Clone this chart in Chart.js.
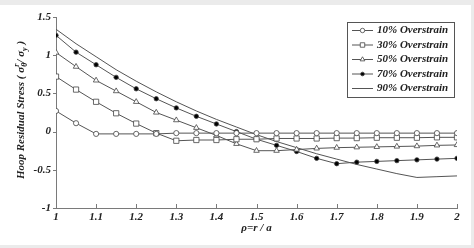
<!DOCTYPE html>
<html><head><meta charset="utf-8">
<script src="https://cdn.jsdelivr.net/npm/chart.js@4/dist/chart.umd.min.js"></script>
<style>html,body{margin:0;padding:0;background:#ebebeb;overflow:hidden}#wrap{width:474px;height:248px;position:relative}</style>
</head><body><div id="wrap"><canvas id="c" width="474" height="248"></canvas></div>
<script>
const rho = [1.00,1.05,1.10,1.15,1.20,1.25,1.30,1.35,1.40,1.45,1.50,1.55,1.60,1.65,1.70,1.75,1.80,1.85,1.90,1.95,2.00];
const xTickValues = [1,1.1,1.2,1.3,1.4,1.5,1.6,1.7,1.8,1.9,2];
const xTickLabels = ['1','1.1','1.2','1.3','1.4','1.5','1.6','1.7','1.8','1.9','2'];
const yTickValues = [-1,-0.5,0,0.5,1,1.5];
const yTickLabels = ['-1','-0.5','0','0.5','1','1.5'];
const seriesNames = ['10% Overstrain','30% Overstrain','50% Overstrain','70% Overstrain','90% Overstrain'];
const s10 = [0.27,0.11,-0.03,-0.03,-0.03,-0.03,-0.02,-0.02,-0.02,-0.02,-0.02,-0.02,-0.02,-0.02,-0.02,-0.02,-0.02,-0.02,-0.02,-0.02,-0.02];
const s30 = [0.72,0.55,0.39,0.24,0.105,-0.02,-0.12,-0.11,-0.11,-0.10,-0.10,-0.09,-0.09,-0.09,-0.085,-0.085,-0.08,-0.08,-0.08,-0.075,-0.075];
const s50 = [1.035,0.85,0.67,0.53,0.39,0.25,0.15,0.05,-0.05,-0.16,-0.25,-0.25,-0.235,-0.22,-0.21,-0.205,-0.20,-0.195,-0.19,-0.18,-0.175];
const s70 = [1.26,1.04,0.875,0.71,0.56,0.43,0.31,0.20,0.10,0.0,-0.10,-0.18,-0.26,-0.35,-0.42,-0.40,-0.39,-0.38,-0.37,-0.36,-0.35];
const s90 = [1.34,1.15,0.98,0.81,0.66,0.52,0.39,0.27,0.16,0.06,-0.04,-0.13,-0.21,-0.29,-0.36,-0.43,-0.49,-0.55,-0.60,-0.59,-0.58];

const FONT = "'Liberation Serif','DejaVu Serif',serif";
const LINE = '#555555';
const pts = a => a.map((v,i)=>({x:rho[i], y:v}));
const styles = [
  {pointStyle:'circle', pointRadius:2.6, bg:'#ffffff'},
  {pointStyle:'rect', pointRadius:3.7, bg:'#ffffff'},
  {pointStyle:'triangle', pointRadius:3.2, bg:'#ffffff'},
  {pointStyle:'circle', pointRadius:2.2, bg:'#000000'},
  {pointStyle:'circle', pointRadius:0, bg:'#ffffff'}
];
const seriesData = [s10,s30,s50,s70,s90];
const datasets = seriesData.map((s,i)=>({
  label: seriesNames[i],
  data: pts(s),
  borderColor: LINE, borderWidth: 1,
  pointStyle: styles[i].pointStyle, pointRadius: styles[i].pointRadius,
  pointBackgroundColor: styles[i].bg, pointBorderColor: '#444', pointBorderWidth: 0.8,
  tension: 0, fill: false
}));

const decor = {
  id:'decor',
  beforeDraw(chart){
    const ctx = chart.ctx;
    ctx.save(); ctx.fillStyle='#ffffff'; ctx.fillRect(0,5,471,240); ctx.restore();
  },
  afterDraw(chart){
    const ctx = chart.ctx, ca = chart.chartArea;
    const xs = chart.scales.x, ys = chart.scales.y;
    ctx.save();
    ctx.strokeStyle = '#7a7a7a'; ctx.lineWidth = 1;
    xTickValues.forEach(v=>{ const p=Math.round(xs.getPixelForValue(v))+0.5; ctx.beginPath(); ctx.moveTo(p,ca.bottom); ctx.lineTo(p,ca.bottom-4); ctx.stroke(); });
    yTickValues.forEach(v=>{ const p=Math.round(ys.getPixelForValue(v))+0.5; ctx.beginPath(); ctx.moveTo(ca.left,p); ctx.lineTo(ca.left-3,p); ctx.stroke(); });
    ctx.fillStyle='#222'; ctx.font = "italic bold 11px "+FONT; ctx.textAlign='center'; ctx.textBaseline='middle';
    ctx.fillText('ρ=r / a', (ca.left+ca.right)/2, 228);
    const segs = [
      {t:'Hoop Residual Stress ( σ', s:11, dy:0},
      {stack:[{t:'θ', s:8, dy:3},{t:'r', s:8, dy:-5}]},
      {t:'/ σ', s:11, dy:0},
      {t:'y', s:8, dy:3},
      {t:' )', s:11, dy:0}
    ];
    const w = seg => { if(seg.stack){ return Math.max(...seg.stack.map(q=>{ctx.font="italic bold "+q.s+"px "+FONT; return ctx.measureText(q.t).width;})); } ctx.font="italic bold "+seg.s+"px "+FONT; return ctx.measureText(seg.t).width; };
    const total = segs.reduce((a,sg)=>a+w(sg),0);
    ctx.translate(20, 110); ctx.rotate(-Math.PI/2);
    ctx.textAlign='left'; ctx.textBaseline='alphabetic';
    let x = -total/2;
    segs.forEach(sg=>{
      const ww = w(sg);
      const items = sg.stack ? sg.stack : [sg];
      items.forEach(q=>{ ctx.font="italic bold "+q.s+"px "+FONT; ctx.fillText(q.t, x, 4+q.dy); });
      x += ww;
    });
    ctx.restore();
    ctx.save();
    const lx=347.5, ly=22.5, lw=107, lh=75;
    ctx.fillStyle='#fff'; ctx.fillRect(lx,ly,lw,lh);
    ctx.strokeStyle='#555'; ctx.lineWidth=1; ctx.strokeRect(lx,ly,lw,lh);
    const rowY=[30,44.5,59,73.5,88];
    chart.data.datasets.forEach((ds,i)=>{
      const y=rowY[i]+0.5;
      ctx.strokeStyle=ds.borderColor; ctx.lineWidth=1;
      ctx.beginPath(); ctx.moveTo(352,y); ctx.lineTo(373,y); ctx.stroke();
      if(ds.pointRadius>0){
        ctx.fillStyle=ds.pointBackgroundColor; ctx.strokeStyle=ds.pointBorderColor; ctx.lineWidth=0.8;
        Chart.helpers.drawPoint(ctx,{pointStyle:ds.pointStyle, radius:ds.pointRadius*0.85, rotation:0, borderWidth:0.8},362.5,y);
      }
      ctx.fillStyle='#222'; ctx.font="italic bold 11px "+FONT; ctx.textAlign='left'; ctx.textBaseline='middle';
      ctx.fillText(ds.label, 377, y);
    });
    ctx.restore();
  }
};

new Chart(document.getElementById('c'), {
  type:'line',
  data:{datasets},
  options:{
    responsive:false, animation:false, devicePixelRatio:1,
    layout:{padding:{top:17,right:17,left:0,bottom:0}},
    plugins:{legend:{display:false}, tooltip:{enabled:false}},
    scales:{
      x:{type:'linear', min:1, max:2,
        afterBuildTicks:s=>{ s.ticks = xTickValues.map(v=>({value:v})); },
        afterFit:s=>{ s.height = 40; },
        grid:{display:false, drawTicks:false},
        border:{display:true, color:'#7a7a7a', width:1},
        ticks:{autoSkip:false, maxRotation:0, padding:3, color:'#222',
          font:{family:FONT, size:11, style:'italic', weight:'bold'},
          callback:(v,i)=>xTickLabels[i]}
      },
      y:{type:'linear', min:-1, max:1.5,
        afterBuildTicks:s=>{ s.ticks = yTickValues.map(v=>({value:v})); },
        afterFit:s=>{ s.width = 56; },
        grid:{display:false, drawTicks:false},
        border:{display:true, color:'#7a7a7a', width:1},
        ticks:{autoSkip:false, padding:5, color:'#222',
          font:{family:FONT, size:11, style:'italic', weight:'bold'},
          callback:(v,i)=>yTickLabels[i]}
      }
    }
  },
  plugins:[decor]
});
</script></body></html>
